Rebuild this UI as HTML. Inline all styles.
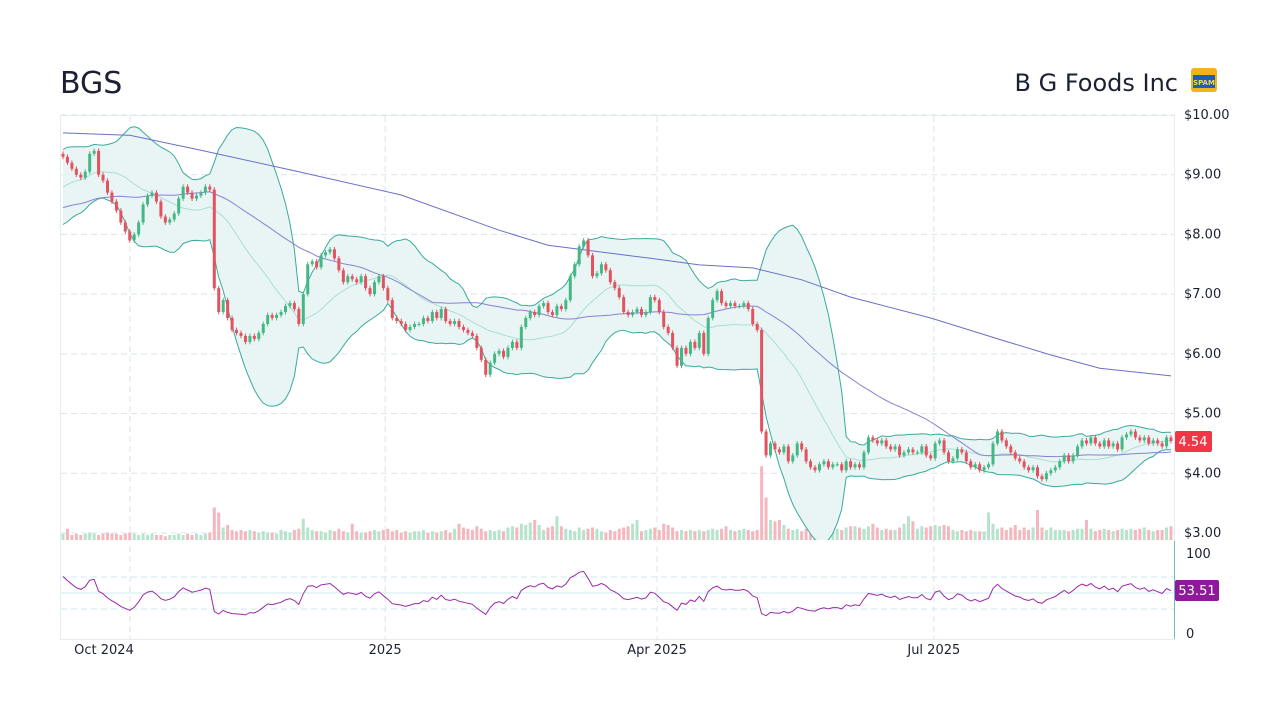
<!DOCTYPE html>
<html><head><meta charset="utf-8"><style>
body{margin:0;background:#fff;font-family:"Liberation Sans","DejaVu Sans",sans-serif}
svg text{font-family:"DejaVu Sans","Liberation Sans",sans-serif}
</style></head><body>
<svg id="c" width="1280" height="720" xmlns="http://www.w3.org/2000/svg">
<text x="60" y="93" font-size="30" fill="#1c2033">BGS</text>
<text x="1178" y="91" font-size="24" fill="#1c2033" text-anchor="end">B G Foods Inc</text>
<g><rect x="1191" y="68" width="26" height="24" rx="3" fill="#f2b21c"/><rect x="1193" y="75" width="22" height="13" fill="#1d5fb8"/><text x="1204" y="85" font-size="7" font-weight="bold" fill="#f7d64a" text-anchor="middle">SPAM</text></g>
<rect x="60.5" y="115.5" width="1114" height="524" fill="none" stroke="#e6ecf0"/>
<g id="grid"></g><g id="vol"></g><g id="bands"></g><g id="lines"></g><g id="candles"></g><g id="rsi"></g><g id="axes"></g>
</svg>
<script>
const priorCloses=[8.1,8.2,8.15,8.3,8.25,8.1,8.0,8.05,8.2,8.3,8.35,8.2,8.1,8.15,8.25,8.3,8.2,8.1,8.0,8.1,8.2,8.3,8.25,8.35,8.4,8.3,8.2,8.25,8.3,8.4,8.3,8.4,8.35,8.5,8.6,8.5,8.4,8.55,8.7,8.8,8.9,8.7,8.6,8.75,8.9,9.0,9.1,9.2,9.35,9.3];
const closes=[9.3,9.2,9.1,9.0,8.95,9.05,9.35,9.4,9.0,8.9,
8.7,8.55,8.4,8.2,8.05,7.9,8.0,8.2,8.5,8.65,
8.7,8.55,8.3,8.2,8.25,8.35,8.6,8.8,8.7,8.6,
8.65,8.7,8.8,8.75,7.1,6.7,6.9,6.6,6.4,6.35,
6.3,6.2,6.3,6.25,6.35,6.5,6.65,6.6,6.65,6.7,
6.8,6.85,6.75,6.5,7.0,7.5,7.55,7.45,7.65,7.7,
7.75,7.6,7.4,7.2,7.3,7.25,7.2,7.3,7.1,7.0,
7.2,7.3,7.1,6.9,6.6,6.55,6.5,6.4,6.45,6.5,
6.5,6.6,6.55,6.7,6.6,6.75,6.55,6.5,6.55,6.45,
6.4,6.35,6.3,6.1,5.9,5.65,5.85,6.0,6.05,5.95,
6.1,6.2,6.1,6.45,6.6,6.7,6.65,6.8,6.85,6.7,
6.65,6.8,6.75,6.9,7.3,7.5,7.8,7.9,7.65,7.3,
7.35,7.5,7.4,7.2,7.1,6.95,6.7,6.65,6.7,6.75,
6.65,6.7,6.95,6.9,6.7,6.45,6.35,6.1,5.8,6.1,
6.0,6.2,6.1,6.35,6.0,6.6,6.9,7.05,6.85,6.8,
6.85,6.8,6.8,6.85,6.75,6.5,6.4,4.7,4.3,4.5,4.4,4.35,
4.45,4.2,4.3,4.5,4.4,4.2,4.1,4.05,4.15,4.2,
4.1,4.15,4.15,4.05,4.2,4.1,4.15,4.1,4.35,4.6,
4.55,4.5,4.55,4.45,4.4,4.45,4.3,4.35,4.4,4.35,
4.35,4.45,4.3,4.25,4.5,4.55,4.35,4.2,4.25,4.4,
4.35,4.2,4.1,4.15,4.05,4.1,4.15,4.5,4.7,4.55,
4.45,4.35,4.25,4.2,4.1,4.05,4.1,3.95,3.9,4.0,
4.05,4.1,4.2,4.3,4.2,4.3,4.45,4.55,
4.5,4.6,4.5,4.45,4.55,4.45,4.5,4.4,4.6,4.65,
4.7,4.6,4.55,4.6,4.5,4.55,4.5,4.45,4.6,4.54];
const volumes=[0.5,0.9,0.4,0.5,0.4,0.5,0.6,0.5,0.4,0.5,0.6,0.5,0.5,0.4,0.5,0.6,0.5,0.4,0.5,0.4,
0.5,0.4,0.4,0.3,0.4,0.4,0.5,0.4,0.5,0.4,0.5,0.4,0.5,0.6,2.6,2.2,1.0,1.2,0.8,0.7,
0.8,0.7,0.8,0.7,0.6,0.7,0.6,0.6,0.5,0.8,0.7,0.6,0.8,0.9,1.7,1.0,0.8,0.7,0.7,0.6,
0.8,0.7,0.9,0.7,0.6,1.3,0.7,0.6,0.6,0.7,0.8,0.7,0.8,0.9,0.7,0.8,0.6,0.7,0.6,0.7,
0.7,0.8,0.6,0.7,0.6,0.7,0.8,0.6,0.9,1.3,1.0,0.9,0.8,1.1,0.9,0.7,0.8,0.7,0.8,0.7,
1.0,1.1,1.0,1.3,1.2,1.4,1.6,1.2,0.8,1.0,1.1,1.9,1.1,0.9,0.8,0.7,1.0,0.8,0.9,1.0,
0.9,0.7,0.6,0.8,0.7,0.9,1.0,1.1,1.3,1.6,0.7,0.8,0.9,1.0,0.8,1.3,1.2,1.0,0.7,0.8,
0.7,0.8,0.7,0.8,0.7,0.8,0.9,0.8,0.9,1.1,0.8,0.7,0.8,0.9,0.8,0.7,0.8,5.9,3.4,1.6,1.5,1.6,1.2,0.9,0.8,0.9,0.7,
0.9,0.8,1.0,0.9,0.8,1.0,0.8,0.9,0.8,1.0,1.1,1.1,1.0,0.9,1.1,1.3,1.0,0.8,0.9,0.8,
0.8,1.0,1.3,1.9,1.5,0.9,1.1,1.0,1.1,1.2,1.1,1.2,1.1,0.8,
0.7,0.8,0.7,0.8,0.7,0.7,0.7,2.2,1.3,0.9,1.0,0.8,1.0,1.2,0.8,1.0,0.8,1.0,2.4,1.0,
0.8,1.0,0.8,0.8,0.8,0.7,0.8,0.9,0.9,1.6,0.9,0.7,0.8,0.9,0.8,0.7,0.8,0.9,0.8,0.9,
0.8,0.9,1.0,0.8,0.7,0.8,0.8,1.0,1.1];
const sma200Idx=[0,15,31,53,76,98,109,132,143,155,166,177,195,211,222,233,249];
const sma200Val=[9.70,9.66,9.41,9.05,8.66,8.07,7.82,7.60,7.49,7.44,7.24,6.95,6.60,6.23,5.98,5.76,5.63];
const priceTicks=[10,9,8,7,6,5,4,3];
const rsiTicks=[100,0];
const dateIdx=[15.06,72.4,133.5,195.7];
const dateLabels=["Oct 2024","2025","Apr 2025","Jul 2025"];

const NS="http://www.w3.org/2000/svg";
const N=closes.length,X0=63,X1=1171;
const xs=i=>X0+(X1-X0)*i/(N-1);
const yp=p=>115+(10-p)*59.71;
const yr=v=>553+(100-v)*0.8;
function mk(tag,attrs,parent,txt){const e=document.createElementNS(NS,tag);for(const k in attrs)e.setAttribute(k,attrs[k]);if(txt!==undefined)e.textContent=txt;document.getElementById(parent).appendChild(e);return e;}
const all=priorCloses.concat(closes),P=priorCloses.length;
priceTicks.forEach(t=>{const g=mk('line',{x1:61,x2:1174,y1:yp(t),y2:yp(t),stroke:'#dbe5ea','stroke-dasharray':'6,4'},'grid');

const l=mk('text',{x:1184,y:yp(t)+4,'font-size':13,fill:'#1c2033'},'axes','$'+t.toFixed(2));
});
dateIdx.forEach((d,k)=>{const gx=xs(d);const g=mk('line',{x1:gx,x2:gx,y1:116,y2:639,stroke:'#dbe5ea','stroke-dasharray':'6,4'},'grid');

const l=mk('text',{x:k==0?104:gx,y:654,'font-size':13,fill:'#1c2033','text-anchor':'middle'},'axes',dateLabels[k]);
});
[70,50,30].forEach(v=>{const g=mk('line',{x1:61,x2:1174,y1:yr(v),y2:yr(v),stroke:'#cfe9ef','stroke-dasharray':v==50?'':'6,4'},'grid');
});
rsiTicks.forEach(t=>{const l=mk('text',{x:1186,y:yr(t)+5,'font-size':13,fill:'#1c2033'},'axes',String(t));
});
const ax=mk('line',{x1:1174.5,x2:1174.5,y1:541,y2:639,stroke:'#6cb7c4'},'axes');

const vmax=6;
volumes.forEach((v,i)=>{const up=i==0||closes[i]>=closes[i-1];const h=v/vmax*75;
const r=mk('rect',{x:xs(i)-1.5,y:540-h,width:3,height:h,fill:up?'#b5e3cc':'#f4b7be'},'vol');
});
const up=[],lo=[],mid=[],s50=[];
for(let i=0;i<N;i++){const j=P+i;const w=all.slice(j-19,j+1);const m=w.reduce((a,b)=>a+b)/20;
const sd=Math.sqrt(w.reduce((a,b)=>a+(b-m)*(b-m),0)/20);mid.push(m);up.push(m+2*sd);lo.push(m-2*sd);
const w5=all.slice(Math.max(0,j-49),j+1);s50.push(w5.reduce((a,b)=>a+b)/w5.length);}
const pl=a=>a.map((v,i)=>xs(i).toFixed(1)+','+yp(v).toFixed(1)).join(' ');
const clip=mk('clipPath',{id:'pc'},'bands');mk('rect',{x:61,y:116,width:1113,height:424},'pc');
const fill=mk('polygon',{points:pl(up)+' '+lo.map((v,i)=>xs(i).toFixed(1)+','+yp(v).toFixed(1)).reverse().join(' '),fill:'#e8f5f4','clip-path':'url(#pc)'},'bands');

[[up,'#3aaa9b',1,'bollinger-upper'],[lo,'#3aaa9b',1,'bollinger-lower'],[mid,'#a9ded6',1,'bollinger-middle'],[s50,'#8a80d2',1,'sma-50-line']].forEach(a=>{
const l=mk('polyline',{points:pl(a[0]),fill:'none',stroke:a[1],'stroke-width':a[2],'clip-path':'url(#pc)'},'lines');
});
const s2=mk('polyline',{points:sma200Idx.map((d,k)=>xs(d).toFixed(1)+','+yp(sma200Val[k]).toFixed(1)).join(' '),fill:'none',stroke:'#6a70c8','stroke-width':1},'lines');

closes.forEach((c,i)=>{const o=i==0?priorCloses[P-1]+0.05:closes[i-1];const u=c>=o;const col=u?'#45b784':'#e2525f';
const hi=Math.max(o,c)+0.04,lw=Math.min(o,c)-0.04;
const w=mk('line',{x1:xs(i),x2:xs(i),y1:yp(hi),y2:yp(lw),stroke:col,'stroke-width':1},'candles');

const b=mk('rect',{x:xs(i)-1.5,y:yp(Math.max(o,c)),width:3,height:Math.max(1,Math.abs(yp(o)-yp(c))),fill:col},'candles');
});
const rsi=[];let ag=0,al=0;for(let j=1;j<=14;j++){const d=all[j]-all[j-1];ag+=Math.max(d,0);al+=Math.max(-d,0);}ag/=14;al/=14;
for(let j=15;j<all.length;j++){const d=all[j]-all[j-1];ag=(ag*13+Math.max(d,0))/14;al=(al*13+Math.max(-d,0))/14;if(j>=P)rsi.push(al==0?100:100-100/(1+ag/al));}
const rl=mk('polyline',{points:rsi.map((v,i)=>xs(i).toFixed(1)+','+yr(v).toFixed(1)).join(' '),fill:'none',stroke:'#9a2aa6','stroke-width':1},'rsi');

const last=closes[N-1];
const pt=mk('rect',{x:1175,y:yp(last)-10,width:37,height:21,rx:2,fill:'#f23645'},'axes');

const ptt=mk('text',{x:1193,y:yp(last)+5,'font-size':13,fill:'#fff','text-anchor':'middle'},'axes',last.toFixed(2));

const rt=mk('rect',{x:1175,y:580,width:44,height:21,rx:2,fill:'#8e1a99'},'axes');

const rtt=mk('text',{x:1197,y:595,'font-size':13,fill:'#fff','text-anchor':'middle'},'axes','53.51');

</script>
</body></html>
